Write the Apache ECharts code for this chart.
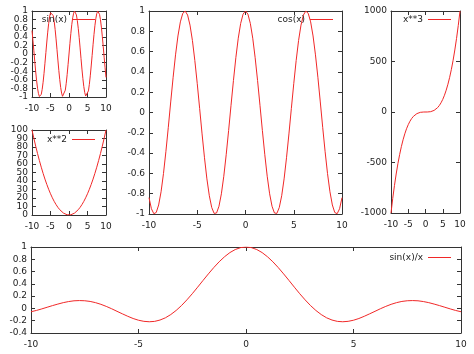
<!DOCTYPE html>
<html>
<head>
<meta charset="utf-8">
<script src="https://cdn.jsdelivr.net/npm/echarts@6/dist/echarts.min.js"></script>
<style>
  html, body { margin: 0; padding: 0; background: #fff; }
  #chart { width: 474px; height: 354px; }
</style>
</head>
<body>
<div id="chart"></div>
<script>
// x samples for the periodic curves, step 0.25 from -10 to 10
var xsFine = [-10, -9.75, -9.5, -9.25, -9, -8.75, -8.5, -8.25, -8, -7.75, -7.5, -7.25, -7, -6.75, -6.5, -6.25,
  -6, -5.75, -5.5, -5.25, -5, -4.75, -4.5, -4.25, -4, -3.75, -3.5, -3.25, -3, -2.75, -2.5, -2.25,
  -2, -1.75, -1.5, -1.25, -1, -0.75, -0.5, -0.25, 0, 0.25, 0.5, 0.75, 1, 1.25, 1.5, 1.75,
  2, 2.25, 2.5, 2.75, 3, 3.25, 3.5, 3.75, 4, 4.25, 4.5, 4.75, 5, 5.25, 5.5, 5.75,
  6, 6.25, 6.5, 6.75, 7, 7.25, 7.5, 7.75, 8, 8.25, 8.5, 8.75, 9, 9.25, 9.5, 9.75, 10]

// x samples for the polynomials, step 0.5
var xsCoarse = [-10, -9.5, -9, -8.5, -8, -7.5, -7, -6.5, -6, -5.5, -5, -4.5, -4, -3.5, -3, -2.5, -2, -1.5, -1, -0.5,
  0, 0.5, 1, 1.5, 2, 2.5, 3, 3.5, 4, 4.5, 5, 5.5, 6, 6.5, 7, 7.5, 8, 8.5, 9, 9.5, 10]

var sinVals = [0.544, 0.320, 0.075, -0.174, -0.412, -0.625, -0.798, -0.923, -0.989, -0.995, -0.938, -0.823, -0.657, -0.450, -0.215, 0.033,
  0.279, 0.508, 0.706, 0.859, 0.959, 0.999, 0.978, 0.895, 0.757, 0.572, 0.351, 0.108, -0.141, -0.382, -0.598, -0.778,
  -0.909, -0.984, -0.997, -0.949, -0.841, -0.682, -0.479, -0.247, 0, 0.247, 0.479, 0.682, 0.841, 0.949, 0.997, 0.984,
  0.909, 0.778, 0.598, 0.382, 0.141, -0.108, -0.351, -0.572, -0.757, -0.895, -0.978, -0.999, -0.959, -0.859, -0.706, -0.508,
  -0.279, -0.033, 0.215, 0.450, 0.657, 0.823, 0.938, 0.995, 0.989, 0.923, 0.798, 0.625, 0.412, 0.174, -0.075, -0.320, -0.544]

var cosVals = [-0.839, -0.948, -0.997, -0.985, -0.911, -0.781, -0.602, -0.386, -0.146, 0.104, 0.347, 0.568, 0.754, 0.893, 0.977, 0.999,
  0.960, 0.861, 0.709, 0.512, 0.284, 0.038, -0.211, -0.446, -0.654, -0.820, -0.936, -0.994, -0.990, -0.924, -0.801, -0.628,
  -0.416, -0.178, 0.071, 0.315, 0.540, 0.732, 0.878, 0.969, 1, 0.969, 0.878, 0.732, 0.540, 0.315, 0.071, -0.178,
  -0.416, -0.628, -0.801, -0.924, -0.990, -0.994, -0.936, -0.820, -0.654, -0.446, -0.211, 0.038, 0.284, 0.512, 0.709, 0.861,
  0.960, 0.999, 0.977, 0.893, 0.754, 0.568, 0.347, 0.104, -0.146, -0.386, -0.602, -0.781, -0.911, -0.985, -0.997, -0.948, -0.839]

var sincVals = [-0.054, -0.033, -0.008, 0.019, 0.046, 0.071, 0.094, 0.112, 0.124, 0.128, 0.125, 0.114, 0.094, 0.067, 0.033, -0.005,
  -0.047, -0.088, -0.128, -0.164, -0.192, -0.210, -0.217, -0.211, -0.189, -0.153, -0.100, -0.033, 0.047, 0.139, 0.239, 0.346,
  0.455, 0.562, 0.665, 0.759, 0.841, 0.909, 0.959, 0.990, 1, 0.990, 0.959, 0.909, 0.841, 0.759, 0.665, 0.562,
  0.455, 0.346, 0.239, 0.139, 0.047, -0.033, -0.100, -0.153, -0.189, -0.211, -0.217, -0.210, -0.192, -0.164, -0.128, -0.088,
  -0.047, -0.005, 0.033, 0.067, 0.094, 0.114, 0.125, 0.128, 0.124, 0.112, 0.094, 0.071, 0.046, 0.019, -0.008, -0.033, -0.054]

var sqVals = [100, 90.25, 81, 72.25, 64, 56.25, 49, 42.25, 36, 30.25, 25, 20.25, 16, 12.25, 9, 6.25, 4, 2.25, 1, 0.25,
  0, 0.25, 1, 2.25, 4, 6.25, 9, 12.25, 16, 20.25, 25, 30.25, 36, 42.25, 49, 56.25, 64, 72.25, 81, 90.25, 100]

var cubeVals = [-1000, -857, -729, -614, -512, -422, -343, -275, -216, -166, -125, -91, -64, -43, -27, -16, -8, -3.4, -1, -0.1,
  0, 0.1, 1, 3.4, 8, 16, 27, 43, 64, 91, 125, 166, 216, 275, 343, 422, 512, 614, 729, 857, 1000]

var xTicks = { min: -10, max: 10, interval: 5 }

// panels: name, x samples, values, grid box, y range [min, max, step], legend position
// split: tick labels too dense for echarts' overlap check, so every other one goes on a helper axis
var panels = [
  { name: 'sin(x)', xs: xsFine, vals: sinVals, box: [32, 11, 74, 86], y: [-1, 1, 0.2], legend: [379, 15], split: true },
  { name: 'x**2', xs: xsCoarse, vals: sqVals, box: [32, 130, 74, 85], y: [0, 100, 10], legend: [379, 135], split: true },
  { name: 'cos(x)', xs: xsFine, vals: cosVals, box: [149, 11, 193, 203], y: [-1, 1, 0.2], legend: [141, 15] },
  { name: 'x**3', xs: xsCoarse, vals: cubeVals, box: [391, 11, 69, 202], y: [-1000, 1000, 500], legend: [23, 15] },
  { name: 'sin(x)/x', xs: xsFine, vals: sincVals, box: [31, 247, 430, 86], y: [-0.4, 1, 0.2], legend: [23, 253] }
]

var font = { fontFamily: 'DejaVu Sans', fontSize: 9, color: '#222' }
var lineCol = '#333'
var red = '#f02828'
var plain = function (v) { return String(Math.round(v * 100) / 100) }

var grid = [], xAxis = [], yAxis = [], series = [], legend = []
var extra = []

function axisBase (gi) {
  return {
    gridIndex: gi, type: 'value',
    axisLine: { show: true, onZero: false, lineStyle: { color: lineCol, width: 1 } },
    axisTick: { show: true, inside: true, length: 4, lineStyle: { color: lineCol } },
    splitLine: { show: false }
  }
}
var label = Object.assign({ showMinLabel: true, showMaxLabel: true, hideOverlap: false, formatter: plain }, font)

panels.forEach(function (p, i) {
  grid.push({ left: p.box[0], top: p.box[1], width: p.box[2], height: p.box[3] })
  var common = axisBase(i)
  xAxis.push(Object.assign({}, common, xTicks, {
    position: 'bottom', axisLabel: Object.assign({}, label, { margin: 7 })
  }))
  xAxis.push(Object.assign({}, common, xTicks, { position: 'top', axisLabel: { show: false } }))
  var step = p.split ? p.y[2] * 2 : p.y[2]
  yAxis.push(Object.assign({}, common, { min: p.y[0], max: p.y[1], interval: step }, {
    position: 'left', axisLabel: Object.assign({}, label, { margin: 4 })
  }))
  yAxis.push(Object.assign({}, common, { min: p.y[0], max: p.y[1], interval: p.y[2] }, {
    position: 'right', axisLabel: { show: false }
  }))
  if (p.split) extra.push(p)
  series.push({
    name: p.name, type: 'line', xAxisIndex: i * 2, yAxisIndex: i * 2,
    symbol: 'none', smooth: false,
    lineStyle: { color: red, width: 1 }, itemStyle: { color: red },
    data: p.xs.map(function (x, k) { return [x, p.vals[k]] })
  })
  legend.push({
    data: [{ name: p.name, icon: 'rect' }], right: p.legend[0], top: p.legend[1],
    align: 'right', itemWidth: 23, itemHeight: 1, padding: 0,
    textStyle: font
  })
})

// helper grids carrying the in-between tick labels of the dense panels
extra.forEach(function (p) {
  var gi = grid.length
  var unit = p.box[3] / ((p.y[1] - p.y[0]) / p.y[2])
  grid.push({ left: p.box[0], top: p.box[1] + unit, width: p.box[2], height: p.box[3] - 2 * unit })
  xAxis.push({ gridIndex: gi, type: 'value', min: -10, max: 10, show: false })
  var ax = axisBase(gi)
  ax.axisLine = { show: false, onZero: false }
  yAxis.push(Object.assign(ax, {
    min: p.y[0] + p.y[2], max: p.y[1] - p.y[2], interval: p.y[2] * 2,
    position: 'left', axisLabel: Object.assign({}, label, { margin: 4 })
  }))
})

var myChart = echarts.init(document.getElementById('chart'))
myChart.setOption({
  animation: false,
  grid: grid,
  xAxis: xAxis,
  yAxis: yAxis,
  legend: legend,
  series: series
})
</script>
</body>
</html>
